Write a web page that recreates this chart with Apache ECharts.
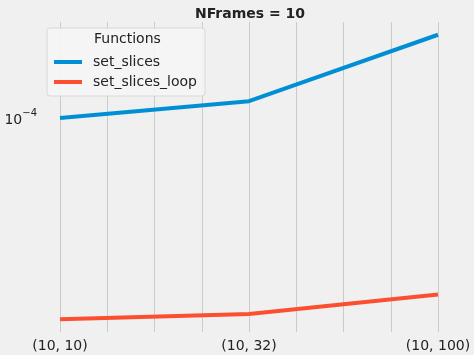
<!DOCTYPE html>
<html>
<head>
<meta charset="utf-8">
<script src="https://cdn.jsdelivr.net/npm/echarts@6/dist/echarts.min.js"></script>
<style>
html,body{margin:0;padding:0;background:#f0f0f0;}
#c{width:474px;height:355px;}
</style>
</head>
<body>
<div id="c"></div>
<script>
var categories = ['(10, 10)', '(10, 32)', '(10, 100)'];
var seriesNames = ['set_slices', 'set_slices_loop'];
var setSlices = [1.0e-4, 1.16e-4, 2.09e-4];
var setSlicesLoop = [1.68e-5, 1.76e-5, 2.09e-5];
var yMajorTicks = [1e-4];
var yMin = 1.5e-5, yMax = 2.34e-4;

var font = 'DejaVu Sans';
var chart = echarts.init(document.getElementById('c'), null, {renderer: 'canvas'});

function pts(arr) { return arr.map(function (v, i) { return [i, v]; }); }

var option = {
  backgroundColor: '#f0f0f0',
  animation: false,
  title: {
    text: 'NFrames = 10',
    left: 245, top: 2, textAlign: 'center',
    textStyle: {fontFamily: font, fontSize: 14, fontWeight: 'bold', color: '#222'}
  },
  graphic: [{
    type: 'text', left: 94, top: 32, z: 100,
    style: {text: 'Functions', fontFamily: font, fontSize: 14, fill: '#222'}
  }],
  legend: {
    data: seriesNames,
    orient: 'vertical',
    left: 47, top: 28,
    padding: [27, 8, 7, 7],
    itemGap: 6,
    itemWidth: 28, itemHeight: 4,
    icon: 'rect',
    backgroundColor: 'rgba(245,245,245,0.9)',
    borderColor: '#d8d8d8', borderWidth: 1, borderRadius: 3,
    textStyle: {fontFamily: font, fontSize: 14, color: '#222', padding: [0, 0, 0, 6]}
  },
  grid: [
    {left: 43, right: 19, top: 22, bottom: 23},
    {left: 60, right: 36, top: 22, bottom: 23}
  ],
  xAxis: [
    {gridIndex: 0, type: 'value', min: 0, max: 1, show: false},
    {
      gridIndex: 1, type: 'value', min: 0, max: categories.length - 1, interval: 0.25,
      axisLine: {show: false}, axisTick: {show: false},
      splitLine: {show: true, lineStyle: {color: '#cbcbcb', width: 1}},
      axisLabel: {
        fontFamily: font, fontSize: 14, color: '#222', margin: 7,
        showMinLabel: true, showMaxLabel: true,
        formatter: function (v) {
          var r = Math.round(v);
          return Math.abs(v - r) < 1e-9 && categories[r] !== undefined ? categories[r] : '';
        }
      }
    }
  ],
  yAxis: [
    {
      gridIndex: 0, type: 'log', logBase: 10, min: yMin, max: yMax,
      axisLine: {show: false}, axisTick: {show: false},
      splitLine: {show: false},
      axisLabel: {
        margin: 6, showMinLabel: false, showMaxLabel: false,
        formatter: function (v) {
          var e = Math.log10(v);
          var r = Math.round(e);
          if (Math.abs(e - r) > 1e-6) return '';
          return '{b|10}{s|' + (r < 0 ? '\u2212' + (-r) : r) + '}';
        },
        rich: {
          b: {fontFamily: font, fontSize: 14, color: '#222', verticalAlign: 'bottom', lineHeight: 18},
          s: {fontFamily: font, fontSize: 10, color: '#222', verticalAlign: 'bottom', padding: [0, 0, 9, 0], lineHeight: 18}
        }
      }
    },
    {gridIndex: 1, type: 'log', logBase: 10, min: yMin, max: yMax, show: false}
  ],
  series: [
    {
      type: 'line', xAxisIndex: 0, yAxisIndex: 0, data: [], silent: true, z: 1,
      markLine: {
        silent: true, symbol: 'none', animation: false,
        label: {show: false},
        lineStyle: {color: '#cbcbcb', width: 1, type: 'solid'},
        data: yMajorTicks.map(function (t) { return {yAxis: t}; })
      }
    },
    {
      name: seriesNames[0], type: 'line', xAxisIndex: 1, yAxisIndex: 1, z: 5,
      data: pts(setSlices), showSymbol: false, symbol: 'none',
      lineStyle: {color: '#008fd5', width: 4}, itemStyle: {color: '#008fd5'}
    },
    {
      name: seriesNames[1], type: 'line', xAxisIndex: 1, yAxisIndex: 1, z: 5,
      data: pts(setSlicesLoop), showSymbol: false, symbol: 'none',
      lineStyle: {color: '#fc4f30', width: 4}, itemStyle: {color: '#fc4f30'}
    }
  ]
};
chart.setOption(option);
</script>
</body>
</html>
